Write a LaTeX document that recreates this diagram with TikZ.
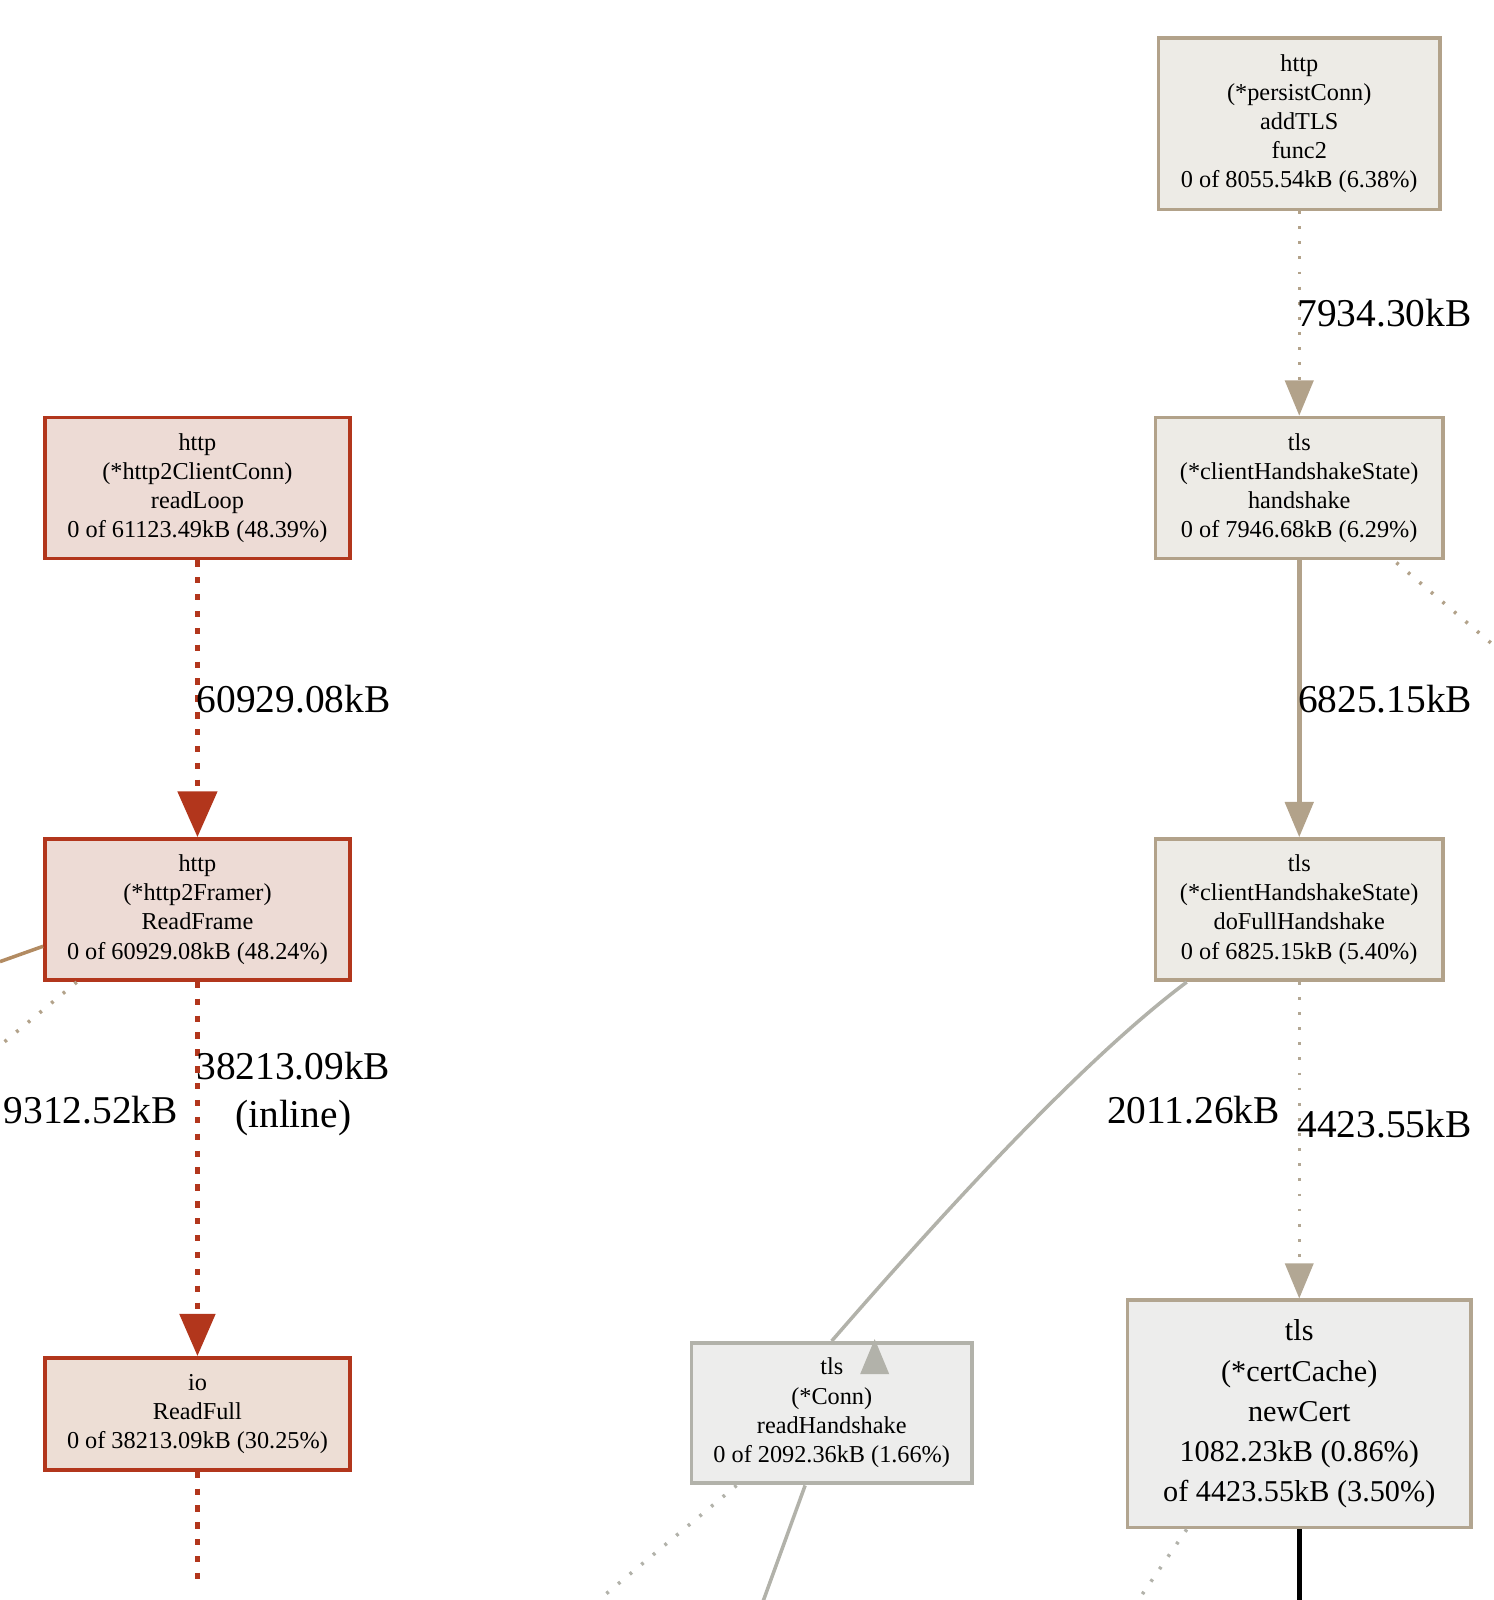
\documentclass[tikz,border=0pt]{standalone}
\usepackage{fontspec}
\setmainfont{Liberation Serif}
\usetikzlibrary{positioning, calc, arrows.meta}
\definecolor{redB}{HTML}{B2361C}
\definecolor{redF}{HTML}{EDDBD5}
\definecolor{redF2}{HTML}{EDDED5}
\definecolor{tanB}{HTML}{B2A28A}
\definecolor{tanF}{HTML}{EDEBE6}
\definecolor{grayB}{HTML}{B2B2AA}
\definecolor{grayF}{HTML}{EDEDEC}
\definecolor{brownE}{HTML}{B28B62}
\begin{document}
\begin{tikzpicture}[x=0.01023cm, y=-0.01023cm,
  fn/.style={draw, line width=1pt, align=center, inner sep=0pt, font=\fontsize{6.9}{8.3}\selectfont},
  big/.style={font=\fontsize{11.2}{13.8}\selectfont, align=center, inner sep=1pt},
  tip/.style={-{Triangle[width=8pt,length=10pt]}},
  dots/.style={dash pattern=on 0.8pt off 3.5pt},
  rdots/.style={dash pattern=on 1.8pt off 3pt}]
\useasboundingbox (0,0) rectangle (1460,1564);
\clip (0,0) rectangle (1460,1564);
% nodes
\node (addtls) [fn, color=tanB, fill=tanF, text=black, minimum width=2.81cm, minimum height=1.71cm] at (1270,121) {http\\(*persistConn)\\addTLS\\func2\\0 of 8055.54kB (6.38\%)};
\node (hs) [fn, color=tanB, fill=tanF, text=black, minimum width=2.87cm, minimum height=1.41cm] at (1270,477) {tls\\(*clientHandshakeState)\\handshake\\0 of 7946.68kB (6.29\%)};
\node (fullhs) [fn, color=tanB, fill=tanF, text=black, minimum width=2.87cm, minimum height=1.41cm] at (1270,889) {tls\\(*clientHandshakeState)\\doFullHandshake\\0 of 6825.15kB (5.40\%)};
\node (readloop) [fn, color=redB, fill=redF, text=black, minimum width=3.05cm, minimum height=1.41cm] at (193,477) {http\\(*http2ClientConn)\\readLoop\\0 of 61123.49kB (48.39\%)};
\node (readframe) [fn, color=redB, fill=redF, text=black, minimum width=3.05cm, minimum height=1.41cm] at (193,889) {http\\(*http2Framer)\\ReadFrame\\0 of 60929.08kB (48.24\%)};
\node (readfull) [fn, color=redB, fill=redF2, text=black, minimum width=3.05cm, minimum height=1.12cm] at (193,1382) {io\\ReadFull\\0 of 38213.09kB (30.25\%)};
\node (readhs) [fn, color=grayB, fill=grayF, text=black, minimum width=2.8cm, minimum height=1.4cm] at (813,1381) {tls\\(*Conn)\\readHandshake\\0 of 2092.36kB (1.66\%)};
\node (newcert) [fn, color=tanB!80!grayB, fill=grayF, text=black, minimum width=3.43cm, minimum height=2.27cm, font=\fontsize{8.6}{11.4}\selectfont] at (1270,1382) {tls\\(*certCache)\\newCert\\1082.23kB (0.86\%)\\of 4423.55kB (3.50\%)};
% free ends
\coordinate (e1) at (0,940);
\coordinate (e2) at (0,1022);
\coordinate (e3) at (1465,635);
\coordinate (e4) at (590,1560);
\coordinate (e5) at (746,1565);
\coordinate (e6) at (1112,1565);
\coordinate (e7) at (1270,1610);
\coordinate (e8) at (193,1552);
\coordinate (c1) at (1160,960);
% edges
\draw [tip, tanB, line width=1pt, dots] (addtls) -- (hs) node[pos=0.5, right=-2pt, big, text=black] {7934.30kB};
\draw [tip, tanB, line width=1.3pt] (hs) -- (fullhs) node[pos=0.5, right=-2pt, big, text=black] {6825.15kB};
\draw [tip, tanB!70!grayB, line width=1pt, dots] (fullhs) -- (newcert) node[pos=0.45, right=-2pt, big, text=black] {4423.55kB};
\draw [tip, grayB, line width=1pt] (c1) .. controls (1080,1020) and (970,1130) .. (readhs.north) ++(42,-2);
\node [big, anchor=east] at (1255,1085) {2011.26kB};
\draw [redB, line width=1.6pt, rdots, -{Triangle[width=11pt,length=13pt]}] (readloop) -- (readframe) node[pos=0.5, right=-2pt, big, text=black] {60929.08kB};
\draw [redB, line width=1.4pt, rdots, -{Triangle[width=10pt,length=12pt]}] (readframe) -- (readfull) node[pos=0.3, right=-2pt, big, text=black] {38213.09kB\\(inline)};
\draw [brownE, line width=1pt] (readframe.west) ++(0,36) -- (e1);
\draw [tanB, line width=1pt, dots] (75,960) -- (e2);
\node [big, anchor=east] at (178,1085) {9312.52kB};
\draw [tanB, line width=1pt, dots] (1365,550) -- (e3);
\draw [grayB, line width=1pt, dots] (720,1452) -- (e4);
\draw [grayB, line width=1pt] (787,1452) -- (e5);
\draw [grayB, line width=1pt, dots] (1160,1495) -- (e6);
\draw [black, line width=1.3pt] (newcert) -- (e7);
\draw [redB, line width=1.4pt, rdots] (readfull) -- (e8);
\end{tikzpicture}
\end{document}
